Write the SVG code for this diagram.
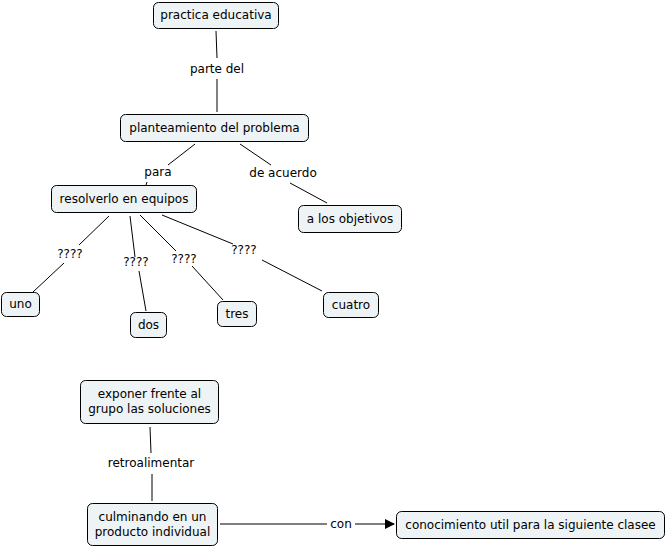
<svg xmlns="http://www.w3.org/2000/svg" width="667" height="548" viewBox="0 0 667 548">
<defs>
<marker id="arr" markerWidth="10" markerHeight="10" refX="9" refY="5" orient="auto" markerUnits="userSpaceOnUse">
<path d="M0,0 L10,5 L0,10 Z" fill="#000"/>
</marker>
<style>
.n rect{fill:#eef3f5;stroke:#000;stroke-width:1}
text{font-family:"DejaVu Sans","Verdana",sans-serif;font-size:12px;fill:#000;text-anchor:middle}
.c line{stroke:#000;stroke-width:1}
</style>
</defs>
<rect width="667" height="548" fill="#fff"/>
<g id="connectors" class="c">
<line x1="216" y1="31" x2="217" y2="58"/>
<line x1="217" y1="79" x2="217" y2="112"/>
<line x1="195" y1="144" x2="168" y2="165"/>
<line x1="147" y1="182" x2="146" y2="185"/>
<line x1="240" y1="144" x2="271" y2="165"/>
<line x1="290" y1="183" x2="327" y2="203"/>
<line x1="109" y1="216" x2="79" y2="245"/>
<line x1="64" y1="263" x2="33" y2="292"/>
<line x1="130" y1="216" x2="135" y2="257"/>
<line x1="139" y1="271" x2="146" y2="311"/>
<line x1="140" y1="215" x2="176" y2="251"/>
<line x1="192" y1="266" x2="223" y2="300"/>
<line x1="162" y1="215" x2="233" y2="244"/>
<line x1="262" y1="260" x2="322" y2="291"/>
<line x1="150" y1="427" x2="151" y2="453"/>
<line x1="152" y1="474" x2="152" y2="501"/>
<line x1="220" y1="524" x2="327" y2="524"/>
<line x1="355" y1="524" x2="394" y2="524" marker-end="url(#arr)"/>
<text x="217" y="73">parte del</text>
<text x="158" y="176">para</text>
<text x="283" y="177">de acuerdo</text>
<text x="70" y="258">????</text>
<text x="136" y="266">????</text>
<text x="184" y="263">????</text>
<text x="244" y="254">????</text>
<text x="151" y="467">retroalimentar</text>
<text x="341" y="528">con</text>
</g>
<g id="practica" class="n"><rect x="153.5" y="2.5" width="125" height="26" rx="5"/><text x="216" y="19">practica educativa</text></g>
<g id="planteamiento" class="n"><rect x="120.5" y="114.5" width="188" height="27" rx="5"/><text x="214.5" y="132">planteamiento del problema</text></g>
<g id="resolverlo" class="n"><rect x="51.5" y="185.5" width="145" height="27" rx="5"/><text x="124" y="203">resolverlo en equipos</text></g>
<g id="objetivos" class="n"><rect x="298.5" y="205.5" width="103" height="27" rx="5"/><text x="350" y="223">a los objetivos</text></g>
<g id="uno" class="n"><rect x="1.5" y="292.5" width="38" height="24" rx="5"/><text x="20.5" y="308">uno</text></g>
<g id="dos" class="n"><rect x="130.5" y="312.5" width="36" height="25" rx="5"/><text x="148.5" y="329">dos</text></g>
<g id="tres" class="n"><rect x="217.5" y="301.5" width="39" height="25" rx="5"/><text x="237" y="318">tres</text></g>
<g id="cuatro" class="n"><rect x="323.5" y="292.5" width="55" height="25" rx="5"/><text x="351" y="309">cuatro</text></g>
<g id="exponer" class="n"><rect x="80.5" y="380.5" width="138" height="43" rx="5"/><text x="149.5" y="398">exponer frente al</text><text x="149.5" y="413">grupo las soluciones</text></g>
<g id="culminando" class="n"><rect x="87.5" y="503.5" width="130" height="42" rx="5"/><text x="152.5" y="521">culminando en un</text><text x="152.5" y="536">producto individual</text></g>
<g id="conocimiento" class="n"><rect x="396.5" y="511.5" width="268" height="27" rx="5"/><text x="530.5" y="529">conocimiento util para la siguiente clasee</text></g>
</svg>
